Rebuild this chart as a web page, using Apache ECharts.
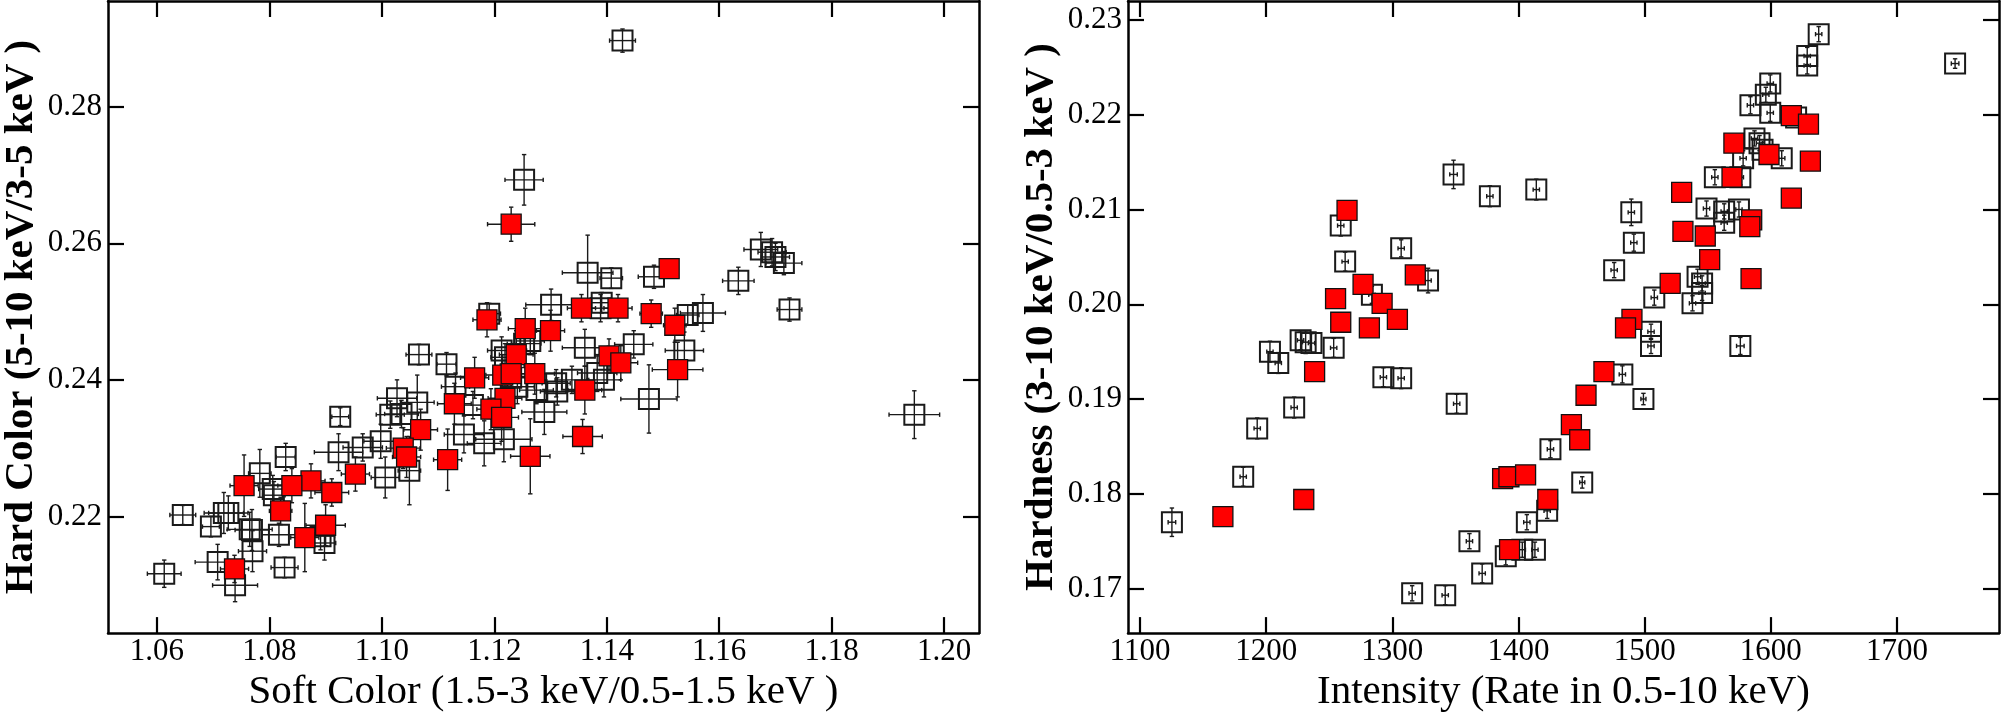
<!DOCTYPE html>
<html lang="en">
<head>
  <meta charset="UTF-8">
  <title>Colors and hardness</title>
  <style>
    html, body { margin: 0; padding: 0; background: #fff; }
    #main { width: 2001px; height: 718px; }
  </style>
</head>
<body>
<div id="main"></div>
<script src="https://cdn.jsdelivr.net/npm/echarts@6/dist/echarts.min.js"></script>
<script type="text/javascript">
  // rows are [x, y, xErr, yErr]
  const softHardOpen = [
    [1.1428, 0.2897, 0.0023, 0.0017], [1.1253, 0.2693, 0.0034, 0.0037], [1.1947, 0.2349, 0.0045, 0.0035],
    [1.1674, 0.2591, 0.0030, 0.0025], [1.1694, 0.2587, 0.0025, 0.0020], [1.1700, 0.2580, 0.0025, 0.0020],
    [1.1715, 0.2571, 0.0032, 0.0017], [1.1725, 0.2503, 0.0022, 0.0017], [1.1634, 0.2545, 0.0028, 0.0020],
    [1.1571, 0.2498, 0.0040, 0.0027], [1.1544, 0.2495, 0.0020, 0.0015], [1.1538, 0.2443, 0.0034, 0.0027],
    [1.1448, 0.2452, 0.0034, 0.0020], [1.1475, 0.2372, 0.0050, 0.0050], [1.1484, 0.2551, 0.0028, 0.0017],
    [1.1408, 0.2549, 0.0020, 0.0015], [1.1366, 0.2557, 0.0045, 0.0055], [1.1391, 0.2513, 0.0025, 0.0015],
    [1.1389, 0.2505, 0.0025, 0.0020], [1.1301, 0.2510, 0.0045, 0.0023], [1.1361, 0.2447, 0.0040, 0.0027],
    [1.1383, 0.2410, 0.0035, 0.0027], [1.1395, 0.2400, 0.0030, 0.0025], [1.1338, 0.2400, 0.0030, 0.0020],
    [1.1312, 0.2383, 0.0030, 0.0020], [1.1289, 0.2353, 0.0040, 0.0033], [1.1191, 0.2497, 0.0020, 0.0015],
    [1.1213, 0.2443, 0.0025, 0.0020], [1.1219, 0.2433, 0.0025, 0.0020], [1.1253, 0.2453, 0.0030, 0.0035],
    [1.1264, 0.2457, 0.0025, 0.0020], [1.1230, 0.2403, 0.0030, 0.0025], [1.1241, 0.2390, 0.0030, 0.0025],
    [1.1217, 0.2313, 0.0050, 0.0033], [1.1182, 0.2307, 0.0030, 0.0033], [1.1146, 0.2320, 0.0035, 0.0027],
    [1.1162, 0.2363, 0.0025, 0.0020], [1.1131, 0.2390, 0.0025, 0.0020], [1.1115, 0.2423, 0.0017, 0.0017],
    [1.1066, 0.2437, 0.0023, 0.0015], [1.1063, 0.2367, 0.0030, 0.0040], [1.1027, 0.2373, 0.0035, 0.0027],
    [1.1015, 0.2349, 0.0025, 0.0020], [1.1049, 0.2267, 0.0020, 0.0050], [1.1006, 0.2257, 0.0025, 0.0030],
    [1.0998, 0.2310, 0.0030, 0.0025], [1.0966, 0.2301, 0.0035, 0.0020], [1.0926, 0.2346, 0.0015, 0.0013],
    [1.0923, 0.2294, 0.0043, 0.0027], [1.0829, 0.2287, 0.0017, 0.0020], [1.0783, 0.2263, 0.0020, 0.0035],
    [1.0808, 0.2231, 0.0020, 0.0020], [1.0806, 0.2240, 0.0025, 0.0020], [1.0817, 0.2173, 0.0030, 0.0017],
    [1.0827, 0.2125, 0.0024, 0.0015], [1.0769, 0.2180, 0.0030, 0.0030], [1.0770, 0.2149, 0.0025, 0.0030],
    [1.0765, 0.2181, 0.0040, 0.0025], [1.0727, 0.2205, 0.0035, 0.0025], [1.0719, 0.2205, 0.0035, 0.0030],
    [1.0696, 0.2185, 0.0015, 0.0015], [1.0708, 0.2133, 0.0040, 0.0026], [1.0739, 0.2099, 0.0040, 0.0024],
    [1.0646, 0.2202, 0.0023, 0.0014], [1.0613, 0.2116, 0.0030, 0.0020], [1.0891, 0.2171, 0.0025, 0.0020],
    [1.0898, 0.2161, 0.0020, 0.0025], [1.1275, 0.2385, 0.0030, 0.0020], [1.1310, 0.2395, 0.0025, 0.0020],
    [1.1035, 0.2350, 0.0030, 0.0020]
  ];
  const softHardRed = [
    [1.1230, 0.2628, 0.0042, 0.0025], [1.1511, 0.2563, 0.0015, 0.0012], [1.1187, 0.2488, 0.0025, 0.0025],
    [1.1255, 0.2475, 0.0030, 0.0030], [1.1300, 0.2472, 0.0025, 0.0030], [1.1355, 0.2505, 0.0025, 0.0020],
    [1.1420, 0.2505, 0.0025, 0.0020], [1.1479, 0.2497, 0.0020, 0.0020], [1.1521, 0.2480, 0.0020, 0.0025],
    [1.1239, 0.2437, 0.0030, 0.0035], [1.1404, 0.2435, 0.0025, 0.0025], [1.1425, 0.2425, 0.0030, 0.0025],
    [1.1526, 0.2415, 0.0045, 0.0040], [1.1165, 0.2403, 0.0025, 0.0030], [1.1215, 0.2407, 0.0030, 0.0030],
    [1.1230, 0.2409, 0.0030, 0.0030], [1.1272, 0.2409, 0.0035, 0.0030], [1.1361, 0.2385, 0.0030, 0.0035],
    [1.1129, 0.2365, 0.0030, 0.0030], [1.1219, 0.2373, 0.0030, 0.0030], [1.1194, 0.2357, 0.0025, 0.0030],
    [1.1213, 0.2345, 0.0030, 0.0035], [1.1069, 0.2327, 0.0030, 0.0030], [1.1038, 0.2300, 0.0030, 0.0030],
    [1.1044, 0.2287, 0.0025, 0.0030], [1.1117, 0.2283, 0.0025, 0.0045], [1.1264, 0.2288, 0.0035, 0.0055],
    [1.1357, 0.2317, 0.0035, 0.0025], [1.0953, 0.2262, 0.0025, 0.0025], [1.0911, 0.2235, 0.0030, 0.0020],
    [1.0874, 0.2252, 0.0025, 0.0025], [1.0840, 0.2245, 0.0025, 0.0025], [1.0755, 0.2245, 0.0025, 0.0045],
    [1.0820, 0.2208, 0.0020, 0.0020], [1.0900, 0.2187, 0.0035, 0.0030], [1.0863, 0.2169, 0.0025, 0.0050],
    [1.0738, 0.2123, 0.0025, 0.0020]
  ];
  const intensityOpen = [
    [1637.9, 0.2285, 2.5, 0.0008], [1628.8, 0.2262, 2.5, 0.0009], [1628.8, 0.2252, 2.5, 0.0009],
    [1746.0, 0.2254, 3.0, 0.0005], [1599.5, 0.2233, 2.5, 0.0009], [1596.0, 0.2221, 2.5, 0.0008],
    [1583.8, 0.2210, 2.5, 0.0009], [1599.5, 0.2202, 2.5, 0.0009], [1620.0, 0.2197, 2.5, 0.0008],
    [1587.0, 0.2175, 2.5, 0.0008], [1591.0, 0.2170, 2.5, 0.0008], [1593.4, 0.2163, 2.5, 0.0008],
    [1578.0, 0.2154, 2.5, 0.0008], [1608.6, 0.2154, 2.5, 0.0008], [1555.6, 0.2134, 2.5, 0.0008],
    [1575.8, 0.2134, 2.5, 0.0008], [1549.0, 0.2101, 2.5, 0.0008], [1563.0, 0.2098, 2.5, 0.0008],
    [1574.7, 0.2100, 2.5, 0.0008], [1563.0, 0.2086, 2.5, 0.0008], [1489.4, 0.2097, 2.5, 0.0014],
    [1491.4, 0.2065, 2.5, 0.0009], [1475.8, 0.2036, 2.5, 0.0008], [1541.9, 0.2029, 2.5, 0.0008],
    [1545.5, 0.2022, 2.5, 0.0008], [1545.5, 0.2012, 2.5, 0.0008], [1537.9, 0.2001, 2.5, 0.0008],
    [1507.6, 0.2007, 2.5, 0.0008], [1505.0, 0.1971, 2.5, 0.0008], [1505.0, 0.1956, 2.5, 0.0008],
    [1482.3, 0.1926, 2.5, 0.0009], [1499.0, 0.1900, 2.0, 0.0006], [1575.8, 0.1956, 3.0, 0.0009],
    [1425.3, 0.1847, 2.5, 0.0009], [1450.5, 0.1812, 2.0, 0.0006], [1422.7, 0.1782, 2.5, 0.0008],
    [1406.6, 0.1770, 2.5, 0.0008], [1389.9, 0.1734, 2.5, 0.0009], [1403.0, 0.1741, 2.5, 0.0008],
    [1413.0, 0.1741, 2.5, 0.0008], [1371.2, 0.1716, 2.5, 0.0010], [1361.1, 0.1750, 2.5, 0.0008],
    [1341.9, 0.1693, 2.5, 0.0010], [1315.7, 0.1695, 2.5, 0.0008], [1351.0, 0.1895, 2.5, 0.0010],
    [1348.5, 0.2137, 3.0, 0.0015], [1377.3, 0.2114, 2.5, 0.0011], [1414.1, 0.2121, 2.5, 0.0011],
    [1307.0, 0.2059, 2.5, 0.0009], [1328.3, 0.2025, 2.5, 0.0013], [1283.8, 0.2010, 2.5, 0.0009],
    [1292.9, 0.1923, 2.5, 0.0010], [1307.0, 0.1922, 2.5, 0.0011], [1259.1, 0.2083, 2.5, 0.0011],
    [1262.6, 0.2045, 2.5, 0.0010], [1253.5, 0.1954, 2.5, 0.0010], [1231.3, 0.1960, 2.5, 0.0012],
    [1235.9, 0.1959, 2.5, 0.0010], [1227.3, 0.1962, 2.5, 0.0010], [1203.0, 0.1950, 2.5, 0.0011],
    [1209.6, 0.1938, 2.5, 0.0011], [1222.2, 0.1891, 2.5, 0.0011], [1192.9, 0.1869, 2.5, 0.0011],
    [1181.8, 0.1818, 2.5, 0.0010], [1125.3, 0.1770, 3.0, 0.0015]
  ];
  const intensityRed = [
    [1264.1, 0.2099, 2.5, 0.0008], [1276.8, 0.2021, 2.5, 0.0008], [1255.0, 0.2006, 2.5, 0.0010],
    [1291.9, 0.2001, 2.5, 0.0008], [1259.1, 0.1981, 2.5, 0.0008], [1281.8, 0.1975, 2.5, 0.0008],
    [1304.0, 0.1984, 2.5, 0.0008], [1318.2, 0.2031, 2.5, 0.0008], [1238.4, 0.1929, 2.5, 0.0008],
    [1229.8, 0.1794, 2.5, 0.0008], [1165.7, 0.1776, 2.5, 0.0008], [1529.3, 0.2118, 2.5, 0.0010],
    [1530.3, 0.2077, 2.5, 0.0008], [1548.0, 0.2072, 2.5, 0.0008], [1551.5, 0.2047, 2.5, 0.0008],
    [1520.2, 0.2022, 2.5, 0.0008], [1489.9, 0.1984, 2.5, 0.0008], [1484.8, 0.1975, 2.5, 0.0008],
    [1467.7, 0.1929, 2.5, 0.0008], [1453.5, 0.1904, 2.5, 0.0008], [1441.9, 0.1873, 2.5, 0.0008],
    [1448.5, 0.1857, 2.5, 0.0008], [1387.4, 0.1816, 2.5, 0.0008], [1392.4, 0.1818, 2.5, 0.0008],
    [1405.6, 0.1820, 2.5, 0.0008], [1423.2, 0.1794, 2.5, 0.0008], [1392.9, 0.1741, 2.5, 0.0008],
    [1570.7, 0.2170, 2.5, 0.0008], [1569.2, 0.2134, 2.5, 0.0008], [1584.8, 0.2089, 2.5, 0.0008],
    [1583.3, 0.2082, 2.5, 0.0008], [1584.3, 0.2027, 2.5, 0.0008], [1598.5, 0.2158, 2.5, 0.0008],
    [1616.2, 0.2199, 2.5, 0.0008], [1629.8, 0.2190, 2.5, 0.0008], [1631.3, 0.2151, 2.5, 0.0008],
    [1616.2, 0.2112, 2.5, 0.0008]
  ];

  const softTicks = [1.06, 1.08, 1.10, 1.12, 1.14, 1.16, 1.18, 1.20];
  const hardColorTicks = [0.22, 0.24, 0.26, 0.28];
  const intensityTicks = [1100, 1200, 1300, 1400, 1500, 1600, 1700];
  const hardnessTicks = [0.17, 0.18, 0.19, 0.20, 0.21, 0.22, 0.23];

  const FONT = 'Liberation Serif';
  const ink = '#000';

  function errorBars(params, api) {
    const x = api.value(0), y = api.value(1), xe = api.value(2), ye = api.value(3);
    const l = api.coord([x - xe, y]), r = api.coord([x + xe, y]);
    const b = api.coord([x, y - ye]), t = api.coord([x, y + ye]);
    const c = 2.2;
    const style = {stroke: '#1a1a1a', lineWidth: 1.4};
    const seg = (x1, y1, x2, y2) => ({type: 'line', shape: {x1, y1, x2, y2}, style});
    return {
      type: 'group',
      children: [
        seg(l[0], l[1], r[0], r[1]),
        seg(b[0], b[1], t[0], t[1]),
        seg(l[0], l[1] - c, l[0], l[1] + c),
        seg(r[0], r[1] - c, r[0], r[1] + c),
        seg(b[0] - c, b[1], b[0] + c, b[1]),
        seg(t[0] - c, t[1], t[0] + c, t[1])
      ]
    };
  }

  // one axis with inside ticks; top/right copies only carry the mirrored ticks
  function axis(gridIndex, pos, min, max, ticks, digits, title, extra) {
    const mirror = pos === 'top' || pos === 'right';
    const isX = pos === 'top' || pos === 'bottom';
    return Object.assign({
      type: 'value', gridIndex, position: pos, min, max,
      splitLine: {show: false},
      axisLine: {show: true, onZero: false, lineStyle: {color: ink, width: 2.5}},
      axisTick: {show: true, inside: true, length: 16, customValues: ticks, lineStyle: {color: ink, width: 2.2}},
      axisLabel: {
        show: !mirror, customValues: ticks, fontFamily: FONT, fontSize: 31, color: ink,
        margin: isX ? 3 : 6,
        formatter: (v) => digits ? Number(v).toFixed(digits) : String(Math.round(v))
      },
      name: mirror ? '' : title,
      nameLocation: 'middle'
    }, extra || {});
  }

  const xTitle = {nameGap: 34, nameTextStyle: {fontFamily: FONT, fontSize: 41, color: ink}};
  const yTitle = {nameGap: 66, nameRotate: 90, nameTextStyle: {fontFamily: FONT, fontSize: 41, fontWeight: 'bold', color: ink}};

  const chart = echarts.init(document.getElementById('main'));
  const option = {
    animation: false,
    backgroundColor: '#fff',
    grid: [
      {left: 107, top: 1, width: 872, height: 636},
      {left: 1128, top: 1, width: 871, height: 636}
    ],
    xAxis: [
      axis(0, 'bottom', 1.0513, 1.2062, softTicks, 2, 'Soft Color (1.5-3 keV/0.5-1.5 keV )', xTitle),
      axis(0, 'top', 1.0513, 1.2062, softTicks, 2, ''),
      axis(1, 'bottom', 1090.5, 1780.8, intensityTicks, 0, 'Intensity (Rate in 0.5-10 keV)', xTitle),
      axis(1, 'top', 1090.5, 1780.8, intensityTicks, 0, '')
    ],
    yAxis: [
      axis(0, 'left', 0.2029, 0.2955, hardColorTicks, 2, 'Hard Color (5-10 keV/3-5 keV )', yTitle),
      axis(0, 'right', 0.2029, 0.2955, hardColorTicks, 2, ''),
      axis(1, 'left', 0.1653, 0.2320, hardnessTicks, 2, 'Hardness (3-10 keV/0.5-3 keV )', yTitle),
      axis(1, 'right', 0.1653, 0.2320, hardnessTicks, 2, '')
    ],
    series: []
  };

  const panels = [
    {xi: 0, yi: 0, open: softHardOpen, red: softHardRed},
    {xi: 2, yi: 2, open: intensityOpen, red: intensityRed}
  ];
  panels.forEach(p => {
    option.series.push(
      {type: 'custom', xAxisIndex: p.xi, yAxisIndex: p.yi, renderItem: errorBars, data: p.open,
        encode: {x: 0, y: 1}, z: 2, silent: true},
      {type: 'scatter', xAxisIndex: p.xi, yAxisIndex: p.yi, symbol: 'rect', symbolSize: 20,
        data: p.open.map(r => [r[0], r[1]]), z: 3, silent: true,
        itemStyle: {color: 'rgba(0,0,0,0)', borderColor: '#1a1a1a', borderWidth: 2, opacity: 1}},
      {type: 'custom', xAxisIndex: p.xi, yAxisIndex: p.yi, renderItem: errorBars, data: p.red,
        encode: {x: 0, y: 1}, z: 4, silent: true},
      {type: 'scatter', xAxisIndex: p.xi, yAxisIndex: p.yi, symbol: 'rect', symbolSize: 20,
        data: p.red.map(r => [r[0], r[1]]), z: 5, silent: true,
        itemStyle: {color: '#ff0000', borderColor: '#111', borderWidth: 1.3, opacity: 1}}
    );
  });

  chart.setOption(option);
</script>
</body>
</html>
